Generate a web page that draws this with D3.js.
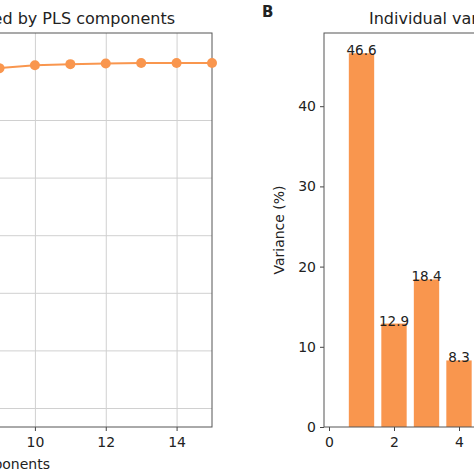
<!DOCTYPE html>
<html><head><meta charset="utf-8">
<script src="https://cdn.jsdelivr.net/npm/d3@7"></script>
<style>
body{margin:0;background:#fff;overflow:hidden}
text{font-family:"DejaVu Sans",sans-serif;fill:#222}
</style></head><body>
<svg id="chart" width="474" height="474"></svg>
<script>
// cumulative variance (A)
const cumComponents = [8, 9, 10, 11, 12, 13, 14, 15];
const cumVariance = [98.6, 99.0, 99.5, 99.7, 99.8, 99.9, 99.9, 99.9];
const cumXTicks = [8, 10, 12, 14];
const cumYTicks = [40, 50, 60, 70, 80, 90];
// individual variance (B)
const indComponents = [1, 2, 3, 4, 5];
const indVariance = [46.6, 12.9, 18.4, 8.3, 5.0];
const indXTicks = [0, 2, 4, 6];
const indYTicks = [0, 10, 20, 30, 40];

const ORANGE = '#f9964e';
const svg = d3.select('#chart');
const FONT = s => s.selectAll('text').attr('font-size', 14).style('font-family', 'DejaVu Sans').attr('fill', '#222');

/* ── Panel A ── */
const xa = d3.scaleLinear().domain([9, 15]).range([-0.5, 212]);
const ya = d3.scaleLinear().domain([40, 90]).range([408, 120]);
const ga = svg.append('g');
ga.append('g').attr('transform', 'translate(0,427)')
  .call(d3.axisBottom(xa).tickValues(cumXTicks).tickSize(-394).tickFormat(''))
  .call(s => { s.select('.domain').remove(); s.selectAll('line').attr('stroke', '#d0d0d0'); });
ga.append('g').attr('transform', 'translate(-10,0)')
  .call(d3.axisRight(ya).tickValues(cumYTicks).tickSize(222).tickFormat(''))
  .call(s => { s.select('.domain').remove(); s.selectAll('line').attr('stroke', '#d0d0d0'); });
ga.append('g').attr('transform', 'translate(0,427)')
  .call(d3.axisBottom(xa).tickValues(cumXTicks).tickSize(4).tickPadding(6).tickFormat(d3.format('d')))
  .call(s => { s.select('.domain').remove(); s.selectAll('line').attr('stroke', '#444'); FONT(s); });
ga.append('rect').attr('x', -10).attr('y', 33).attr('width', 222).attr('height', 394)
  .attr('fill', 'none').attr('stroke', '#555').attr('stroke-width', 1);
ga.append('path').datum(cumComponents.map((c, i) => [c, cumVariance[i]]))
  .attr('d', d3.line().x(d => xa(d[0])).y(d => ya(d[1])))
  .attr('fill', 'none').attr('stroke', ORANGE).attr('stroke-width', 2);
ga.selectAll('circle').data(cumComponents.map((c, i) => [c, cumVariance[i]]))
  .join('circle').attr('cx', d => xa(d[0])).attr('cy', d => ya(d[1])).attr('r', 5)
  .attr('fill', ORANGE);
ga.append('text').attr('x', 175).attr('y', 24).attr('text-anchor', 'end')
  .attr('font-size', 16).text('Cumulative variance explained by PLS components');
ga.append('text').attr('x', 50).attr('y', 469).attr('text-anchor', 'end')
  .attr('font-size', 14).text('Number of PLS components');

/* ── Panel B ── */
const xb = d3.scaleLinear().domain([0, 4]).range([329, 459]);
const yb = d3.scaleLinear().domain([0, 10]).range([427, 346.8]);
const gb = svg.append('g');
gb.selectAll('rect.bar').data(indComponents.map((c, i) => [c, indVariance[i]]))
  .join('rect').attr('class', 'bar')
  .attr('x', d => xb(d[0] - 0.39)).attr('width', xb(0.78) - xb(0))
  .attr('y', d => yb(d[1])).attr('height', d => yb(0) - yb(d[1]))
  .attr('fill', ORANGE);
gb.selectAll('text.lbl').data(indComponents.map((c, i) => [c, indVariance[i]]))
  .join('text').attr('class', 'lbl').attr('x', d => xb(d[0])).attr('y', d => yb(d[1]) + 2)
  .attr('text-anchor', 'middle').attr('font-size', 13.5).text(d => d[1].toFixed(1));
gb.append('g').attr('transform', 'translate(0,427)')
  .call(d3.axisBottom(xb).tickValues(indXTicks).tickSize(4).tickPadding(6).tickFormat(d3.format('d')))
  .call(s => { s.select('.domain').remove(); s.selectAll('line').attr('stroke', '#444'); FONT(s); });
gb.append('g').attr('transform', 'translate(324,0)')
  .call(d3.axisLeft(yb).tickValues(indYTicks).tickSize(4).tickPadding(4))
  .call(s => { s.select('.domain').remove(); s.selectAll('line').attr('stroke', '#444'); FONT(s); });
gb.append('rect').attr('x', 324).attr('y', 33).attr('width', 400).attr('height', 394)
  .attr('fill', 'none').attr('stroke', '#555').attr('stroke-width', 1);
gb.append('text').attr('x', 369).attr('y', 24).attr('font-size', 16)
  .text('Individual variance explained by PLS components');
gb.append('text').attr('transform', 'translate(284,230) rotate(-90)').attr('text-anchor', 'middle')
  .attr('font-size', 14).text('Variance (%)');
svg.append('text').attr('x', 262).attr('y', 17).attr('font-size', 15).attr('font-weight', 'bold').text('B');
</script></body></html>
